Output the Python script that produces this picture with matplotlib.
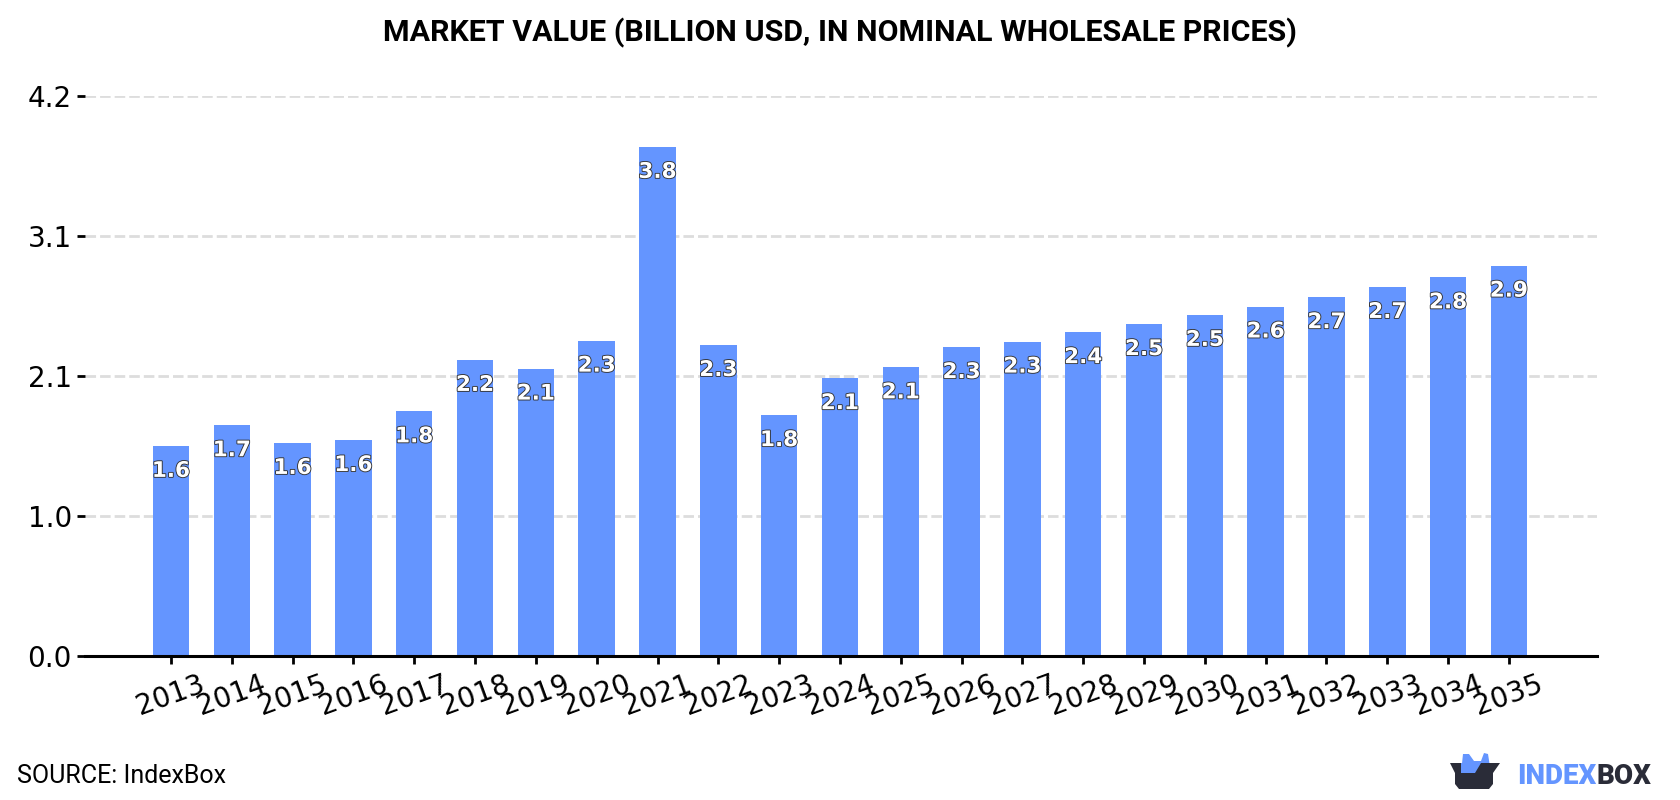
import matplotlib
matplotlib.use("Agg")
import matplotlib.pyplot as plt
import matplotlib.patheffects as pe
from matplotlib.patches import Polygon

years = [2013, 2014, 2015, 2016, 2017, 2018, 2019, 2020, 2021, 2022, 2023, 2024,
         2025, 2026, 2027, 2028, 2029, 2030, 2031, 2032, 2033, 2034, 2035]
values = [1.557, 1.71, 1.579, 1.60, 1.813, 2.194, 2.13, 2.337, 3.773, 2.305, 1.785, 2.059,
          2.139, 2.289, 2.33, 2.40, 2.46, 2.528, 2.59, 2.659, 2.735, 2.806, 2.893]
y_ticks = [0.0, 1.0375, 2.075, 3.1125, 4.15]
y_tick_labels = ["0.0", "1.0", "2.1", "3.1", "4.2"]

BLUE = "#6495ff"
DARK = "#2a2c38"
W, H = 1680, 800

fig = plt.figure(figsize=(16.8, 8), dpi=100)
ax = fig.add_axes([85 / W, 1 - 656 / H, (1596.5 - 85) / W, (656 - 96) / H])

x = list(range(len(years)))
ax.bar(x, values, width=0.6, color=BLUE, zorder=2)
ax.set_xlim(-1.414, 23.44)
ax.set_ylim(0, 4.15)

for xi, v in zip(x, values):
    ax.annotate(f"{v:.1f}", (xi, v), xytext=(0, -15), textcoords="offset pixels",
                ha="center", va="top", fontsize=15.5, fontweight="bold", color="white",
                family="DejaVu Sans", zorder=3,
                path_effects=[pe.withStroke(linewidth=1.3, foreground="#333333")])

ax.set_yticks(y_ticks)
ax.set_yticklabels(y_tick_labels)
ax.set_xticks(x)
ax.set_xticklabels(years, rotation=20, ha="center")
ax.tick_params(axis="y", length=5.5, width=2, labelsize=20, pad=4)
ax.tick_params(axis="x", length=5.5, width=2, labelsize=20, pad=5)
ax.grid(axis="y", color="#dddddd", linewidth=2.0, linestyle=(0, (3.8, 1.45)), zorder=1)
ax.set_axisbelow(True)
for side in ["top", "right", "left"]:
    ax.spines[side].set_visible(False)
ax.spines["bottom"].set_linewidth(2.2)

fig.text(840 / W, 1 - 33 / H, "MARKET VALUE (BILLION USD, IN NOMINAL WHOLESALE PRICES)",
         family="Roboto", fontweight="bold", fontsize=21.9, ha="center", va="center", color="black")
fig.text(17 / W, 1 - 776 / H, "SOURCE: IndexBox", family="Roboto", fontsize=18,
         ha="left", va="center", color="black")

# logo drawn in pixel space on a full-figure overlay
logo = fig.add_axes([0, 0, 1, 1], facecolor="none")
logo.set_xlim(0, W)
logo.set_ylim(H, 0)
logo.axis("off")
logo.add_patch(Polygon([(1461, 773), (1463, 754), (1469, 754), (1474, 761), (1481, 761),
                        (1484, 753), (1488, 754), (1491, 773), (1475, 773)],
                       closed=True, color=BLUE, lw=0))
logo.add_patch(Polygon([(1450, 763), (1500, 763), (1493, 773), (1493, 784), (1489, 789),
                        (1459, 789), (1455, 784), (1455, 773)],
                       closed=True, color=DARK, lw=0))
logo.add_patch(Polygon([(1461, 763), (1481, 763), (1475, 773), (1461, 773)],
                       closed=True, color=BLUE, lw=0))
t1 = logo.text(1517, 776, "INDEX", family="Roboto", fontweight="heavy", fontsize=20,
               color=BLUE, ha="left", va="center")
fig.canvas.draw()
bb = t1.get_window_extent()
logo.text(bb.x1, 776, "BOX", family="Roboto", fontweight="heavy", fontsize=20,
          color=DARK, ha="left", va="center")

fig.savefig("out.png", dpi=100)
